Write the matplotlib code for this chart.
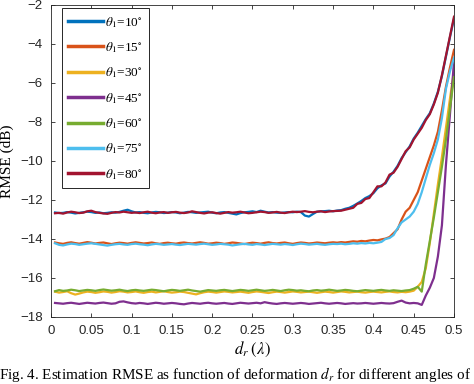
import numpy as np
import matplotlib
matplotlib.use("Agg")
import matplotlib.pyplot as plt

# deformation d_r (in wavelengths), sampled every 0.005
d_r = np.round(np.arange(1, 101) * 0.005, 3)

angles = [10, 15, 30, 45, 60, 75, 80]
colors = ["#0072BD", "#D95319", "#EDB120", "#7E2F8E", "#77AC30", "#4DBEEE", "#A2142F"]

rmse_10 = [
    -12.64, -12.67, -12.66, -12.62, -12.65, -12.69, -12.66, -12.63, -12.60, -12.62,
    -12.66, -12.64, -12.68, -12.66, -12.63, -12.65, -12.61, -12.55, -12.50, -12.58,
    -12.64, -12.62, -12.66, -12.68, -12.64, -12.61, -12.63, -12.67, -12.65, -12.62,
    -12.64, -12.68, -12.65, -12.61, -12.63, -12.66, -12.64, -12.62, -12.60, -12.65,
    -12.68, -12.64, -12.62, -12.66, -12.70, -12.74, -12.67, -12.63, -12.61, -12.58,
    -12.62, -12.55, -12.60, -12.64, -12.62, -12.65, -12.66, -12.64, -12.62, -12.63,
    -12.60, -12.62, -12.80, -12.85, -12.72, -12.60, -12.58, -12.57, -12.55, -12.58,
    -12.54,
    -12.52, -12.45, -12.40, -12.30, -12.18, -12.05, -11.90, -11.80, -11.65, -11.40,
    -11.25, -11.15, -10.80, -10.55, -10.25, -9.85, -9.55, -9.25, -8.85, -8.55,
    -8.20, -7.85, -7.55, -7.05, -6.45, -5.65, -4.65, -3.65, -2.70,
]

rmse_15 = [
    -14.18, -14.22, -14.25, -14.20, -14.17, -14.21, -14.24, -14.20, -14.16, -14.19,
    -14.23, -14.20, -14.18, -14.22, -14.26, -14.22, -14.19, -14.21, -14.24, -14.20,
    -14.17, -14.20, -14.23, -14.21, -14.18, -14.22, -14.25, -14.21, -14.19, -14.22,
    -14.24, -14.20, -14.18, -14.21, -14.23, -14.20, -14.17, -14.20, -14.24, -14.22,
    -14.19, -14.21, -14.25, -14.22, -14.18, -14.20, -14.23, -14.26, -14.22, -14.19,
    -14.21, -14.24, -14.20, -14.17, -14.21, -14.23, -14.20, -14.18, -14.22, -14.25,
    -14.21, -14.18, -14.20, -14.23, -14.21, -14.18, -14.20, -14.22, -14.19, -14.17,
    -14.19, -14.16, -14.18, -14.15, -14.12, -14.14, -14.10, -14.12, -14.08, -14.05,
    -14.07, -14.02, -13.98,
    -13.90, -13.70, -13.50, -13.00, -12.60, -12.40, -12.00, -11.60, -11.00, -10.40,
    -9.80, -9.20, -8.50, -7.40, -6.20, -5.20, -4.30,
]

rmse_30 = [
    -16.70, -16.75, -16.72, -16.68, -16.78, -16.85, -16.80, -16.74, -16.70, -16.72,
    -16.76, -16.73, -16.69, -16.71, -16.75, -16.72, -16.68, -16.70, -16.74, -16.72,
    -16.69, -16.73, -16.76, -16.72, -16.70, -16.74, -16.71, -16.68, -16.72, -16.75,
    -16.73, -16.70, -16.72, -16.76, -16.80, -16.84, -16.78, -16.73, -16.70, -16.72,
    -16.75, -16.72, -16.69, -16.71, -16.74, -16.72, -16.70, -16.73, -16.76, -16.72,
    -16.69, -16.71, -16.74, -16.77, -16.73, -16.70, -16.72, -16.75, -16.72, -16.69,
    -16.71, -16.74, -16.72, -16.70, -16.73, -16.76, -16.73, -16.70, -16.72, -16.75,
    -16.72, -16.69, -16.71, -16.74, -16.72, -16.70, -16.73, -16.75, -16.72, -16.70,
    -16.72, -16.74, -16.71, -16.69, -16.72, -16.74, -16.71, -16.73, -16.70,
    -16.65, -16.45, -16.20, -15.50, -14.20, -12.70, -11.20, -9.80, -8.30, -6.80,
    -5.40,
]

rmse_45 = [
    -17.28, -17.30, -17.32, -17.29, -17.27, -17.30, -17.33, -17.30, -17.27, -17.29,
    -17.31, -17.28, -17.26, -17.29, -17.32, -17.30, -17.22, -17.20, -17.25, -17.29,
    -17.31, -17.28, -17.30, -17.33, -17.30, -17.27, -17.29, -17.32, -17.30, -17.28,
    -17.30, -17.33, -17.35, -17.31, -17.28, -17.30, -17.32, -17.29, -17.27, -17.30,
    -17.32, -17.30, -17.28, -17.31, -17.33, -17.30, -17.27, -17.29, -17.31, -17.29,
    -17.27, -17.30, -17.24, -17.28, -17.31, -17.33, -17.30, -17.28, -17.30, -17.32,
    -17.30, -17.28, -17.30, -17.33, -17.31, -17.29, -17.27, -17.30, -17.32, -17.30,
    -17.28, -17.30, -17.33, -17.31, -17.29, -17.31, -17.30, -17.28, -17.30, -17.32,
    -17.30, -17.28, -17.30, -17.31, -17.29, -17.22, -17.16, -17.26, -17.30, -17.28,
    -17.30, -17.38,
    -16.90, -16.50, -16.00, -14.90, -13.30, -10.20, -7.60, -4.90,
]

rmse_60 = [
    -16.68, -16.62, -16.66, -16.64, -16.60, -16.63, -16.67, -16.64, -16.61, -16.63,
    -16.66, -16.62, -16.59, -16.62, -16.65, -16.63, -16.60, -16.64, -16.67, -16.63,
    -16.61, -16.64, -16.66, -16.63, -16.60, -16.62, -16.65, -16.68, -16.64, -16.61,
    -16.63, -16.66, -16.63, -16.60, -16.64, -16.67, -16.70, -16.66, -16.62, -16.64,
    -16.66, -16.63, -16.61, -16.64, -16.67, -16.64, -16.61, -16.63, -16.66, -16.63,
    -16.60, -16.63, -16.66, -16.64, -16.61, -16.64, -16.67, -16.63, -16.60, -16.62,
    -16.65, -16.63, -16.66, -16.68, -16.64, -16.62, -16.65, -16.63, -16.60, -16.63,
    -16.66, -16.64, -16.61, -16.63, -16.66, -16.68, -16.65, -16.62, -16.64, -16.66,
    -16.63, -16.61, -16.64, -16.66, -16.63, -16.65, -16.67, -16.64, -16.62,
    -16.55, -16.45, -16.70, -15.30, -14.10, -12.90, -11.60, -10.30, -8.90, -7.30,
    -5.70,
]

rmse_75 = [
    -14.22, -14.30, -14.33, -14.28, -14.24, -14.26, -14.30, -14.27, -14.24, -14.22,
    -14.25, -14.28, -14.31, -14.34, -14.30, -14.27, -14.25, -14.28, -14.30, -14.26,
    -14.24, -14.27, -14.29, -14.32, -14.28, -14.25, -14.27, -14.30, -14.28, -14.26,
    -14.29, -14.31, -14.28, -14.25, -14.27, -14.29, -14.26, -14.24, -14.27, -14.30,
    -14.28, -14.25, -14.27, -14.29, -14.33, -14.30, -14.27, -14.25, -14.28, -14.30,
    -14.26, -14.28, -14.31, -14.28, -14.25, -14.27, -14.29, -14.26, -14.28, -14.31,
    -14.27, -14.24, -14.26, -14.29, -14.27, -14.25, -14.28, -14.30, -14.27, -14.25,
    -14.26, -14.24, -14.27, -14.25, -14.22, -14.24, -14.21, -14.23, -14.20, -14.22,
    -14.19,
    -14.15, -14.00, -13.95, -13.80, -13.45, -13.15, -13.00, -12.85, -12.60, -12.20,
    -11.60, -10.90, -10.20, -9.60, -8.90, -7.80, -6.30, -5.40, -4.70,
]

rmse_80 = [
    -12.68, -12.66, -12.70, -12.64, -12.60, -12.63, -12.67, -12.65, -12.58, -12.55,
    -12.62, -12.66, -12.69, -12.71, -12.66, -12.62, -12.64, -12.60, -12.63, -12.66,
    -12.64, -12.67, -12.63, -12.60, -12.65, -12.68, -12.64, -12.62, -12.66, -12.63,
    -12.61, -12.65, -12.67, -12.64, -12.58, -12.62, -12.66, -12.69, -12.65, -12.63,
    -12.67, -12.70, -12.66, -12.62, -12.65, -12.63, -12.60, -12.64, -12.68, -12.66,
    -12.63, -12.60, -12.62, -12.66, -12.64, -12.61, -12.65, -12.67, -12.63, -12.60,
    -12.62, -12.60, -12.57, -12.61, -12.63, -12.60, -12.58, -12.62, -12.59, -12.57,
    -12.56,
    -12.55, -12.50, -12.45, -12.40, -12.20, -12.15, -11.95, -11.90, -11.60, -11.30,
    -11.30, -11.10, -10.70, -10.60, -10.30, -9.90, -9.50, -9.30, -8.90, -8.60,
    -8.30, -7.90, -7.60, -7.10, -6.50, -5.60, -4.60, -3.60, -2.60,
]

x_ticks = [0, 0.05, 0.1, 0.15, 0.2, 0.25, 0.3, 0.35, 0.4, 0.45, 0.5]
x_tick_labels = ["0", "0.05", "0.1", "0.15", "0.2", "0.25", "0.3", "0.35", "0.4", "0.45", "0.5"]
y_ticks = [-18, -16, -14, -12, -10, -8, -6, -4, -2]

series = [rmse_10, rmse_15, rmse_30, rmse_45, rmse_60, rmse_75, rmse_80]

plt.rcParams["mathtext.fontset"] = "stix"

fig = plt.figure(figsize=(4.74, 3.84), dpi=100)
ax = fig.add_axes([0.1076, 0.1745, 0.8502, 0.8125])

for ang, col, vals in zip(angles, colors, series):
    ax.plot(d_r, vals, color=col, lw=1.6,
            label=r"$\theta_{1}$=%d$^{\circ}$" % ang)

ax.set_xlim(0, 0.5)
ax.set_ylim(-18, -2)
ax.set_xticks(x_ticks)
ax.set_xticklabels(x_tick_labels)
ax.set_yticks(y_ticks)
ax.tick_params(direction="in", top=True, right=True, length=3, width=0.6,
               labelsize=9.5, labelcolor="#262626", color="#262626", pad=6)
for lbl in ax.get_xticklabels() + ax.get_yticklabels():
    lbl.set_family("Liberation Sans")
for sp in ax.spines.values():
    sp.set_color("#262626")
    sp.set_linewidth(0.6)

ax.set_ylabel("RMSE (dB)", family="Liberation Serif", fontsize=11, labelpad=4)
ax.set_xlabel(r"$d_{r}\;(\lambda)$", fontsize=12, labelpad=2)

leg = ax.legend(loc="upper left", bbox_to_anchor=(0.027, 0.99), borderaxespad=0,
                handlelength=2.6, handletextpad=0.15, labelspacing=0.8,
                borderpad=0.5, fancybox=False, framealpha=1,
                edgecolor="#262626", prop={"family": "Liberation Serif", "size": 9.5})
leg.get_frame().set_linewidth(0.7)
for line in leg.get_lines():
    line.set_linewidth(2.5)

fig.text(-0.003, 0.0, r"Fig. 4. Estimation RMSE as function of deformation $d_{r}$ for different angles of",
         family="Liberation Serif", fontsize=10.9, ha="left", va="bottom")

fig.savefig("out.png", dpi=100)
